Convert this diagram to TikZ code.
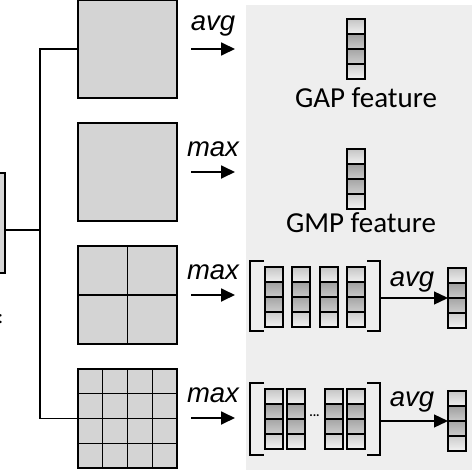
\documentclass[tikz,border=0pt]{standalone}
\usepackage{fontspec}
\setmainfont{Carlito}
\newfontfamily\lblfont{Liberation Sans}
\usetikzlibrary{arrows.meta,calc}
\definecolor{panelgray}{HTML}{EEEEEE}
\definecolor{boxgray}{HTML}{D4D4D4}
\newcommand\featvec[3]{%
  \foreach \i/\tc/\bc in {0/gray!45/gray!12, 1/gray!75/gray!42, 2/gray!70/gray!40, 3/gray!40/gray!10}{
    \draw[cellst, top color=\tc, bottom color=\bc] (#1,{#2+15*\i}) rectangle ++(18,15);
  }
  \node[inner sep=0pt, outer sep=0pt, minimum width=18pt, minimum height=60pt] (#3) at ({#1+9},{#2+30}) {};
}
\begin{document}
\begin{tikzpicture}[x=1pt,y=-1pt,
  mapbox/.style={draw=black, line width=1.3pt, fill=boxgray, inner sep=0pt, outer sep=0pt},
  gridln/.style={line width=1.4pt},
  conn/.style={line width=1.3pt},
  cellst/.style={draw=black, line width=1.4pt},
  sarrow/.style={line width=1.8pt, -{Triangle[length=14pt,width=13pt]}},
  barrow/.style={line width=1.3pt, -{Triangle[length=14pt,width=13pt]}},
  brk/.style={line width=1.5pt},
  oplbl/.style={font=\lblfont\itshape\fontsize{27.5}{27.5}\selectfont, inner sep=0pt},
  featlbl/.style={font=\fontsize{29}{29}\selectfont, inner sep=0pt},
  group/.style={inner sep=0pt, outer sep=0pt}]
\useasboundingbox (0,0) rectangle (474,474);
% panel
\fill[panelgray] (246,5) rectangle (472,470);
% input map (cut off)
\node[mapbox, fill=gray!32, minimum width=50pt, minimum height=100pt] (lb) at (-20,223) {};
\node[font=\fontsize{20}{20}\selectfont, inner sep=0pt] (cut) at (0.5,319) {:};
% pooling maps
\node[mapbox, minimum width=99pt, minimum height=98pt] (b1) at (127.5,49) {};
\node[mapbox, minimum width=99pt, minimum height=98pt] (b2) at (127.5,172) {};
\node[mapbox, minimum width=99pt, minimum height=98pt] (b3) at (127.5,295) {};
\node[mapbox, minimum width=99pt, minimum height=99pt] (b4) at (127.5,418.5) {};
\draw[gridln] (b3.north) -- (b3.south) (b3.west) -- (b3.east);
\foreach \f in {0.25,0.5,0.75}{
  \draw[gridln] ($(b4.north west)!\f!(b4.north east)$) -- ($(b4.south west)!\f!(b4.south east)$);
  \draw[gridln] ($(b4.north west)!\f!(b4.south west)$) -- ($(b4.north east)!\f!(b4.south east)$);
}
% connectors
\coordinate (j) at (40,230);
\draw[conn] (lb.east |- j) -- (j);
\draw[conn] (b1.west) -| (j) |- (b4.west);
% small arrows
\foreach \n/\yy/\t in {1/49/avg, 2/172/max, 3/295/max, 4/418/max}{
  \coordinate (s\n) at (191,\yy);
  \coordinate (e\n) at (235,\yy);
  \draw[sarrow] (s\n) -- (e\n);
  \node[oplbl] (op\n) at (213,{\yy-23}) {\t};
}
% GAP / GMP
\featvec{347}{19}{gap}
\node[featlbl] (gapl) at (366,98) {GAP feature};
\featvec{347}{149}{gmp}
\node[featlbl] (gmpl) at (361,223) {GMP feature};
% row 3
\featvec{265}{267}{c31}
\featvec{292}{267}{c32}
\featvec{320}{267}{c33}
\featvec{347}{267}{c34}
\node[group, minimum width=130pt, minimum height=70pt] (g3) at (315,296) {};
\draw[brk] ([xshift=14pt]g3.north west) -- (g3.north west) -- (g3.south west) -- ([xshift=14pt]g3.south west);
\draw[brk] ([xshift=-13pt]g3.north east) -- (g3.north east) -- (g3.south east) -- ([xshift=-13pt]g3.south east);
\featvec{448}{268}{r3}
\draw[barrow] (g3.east |- r3.west) -- (r3.west);
\node[oplbl] (avg3) at (412,282) {avg};
% row 4
\featvec{265}{389}{c41}
\featvec{287}{389}{c42}
\featvec{325}{389}{c43}
\featvec{347}{389}{c44}
\node[inner sep=0pt, font=\fontsize{13}{13}\selectfont\bfseries] (dots) at (314.5,416) {...};
\node[group, minimum width=130pt, minimum height=72pt] (g4) at (315,419) {};
\draw[brk] ([xshift=14pt]g4.north west) -- (g4.north west) -- (g4.south west) -- ([xshift=14pt]g4.south west);
\draw[brk] ([xshift=-13pt]g4.north east) -- (g4.north east) -- (g4.south east) -- ([xshift=-13pt]g4.south east);
\featvec{448}{391}{r4}
\draw[barrow] (g4.east |- r4.west) -- (r4.west);
\node[oplbl] (avg4) at (412,402) {avg};
\end{tikzpicture}
\end{document}
